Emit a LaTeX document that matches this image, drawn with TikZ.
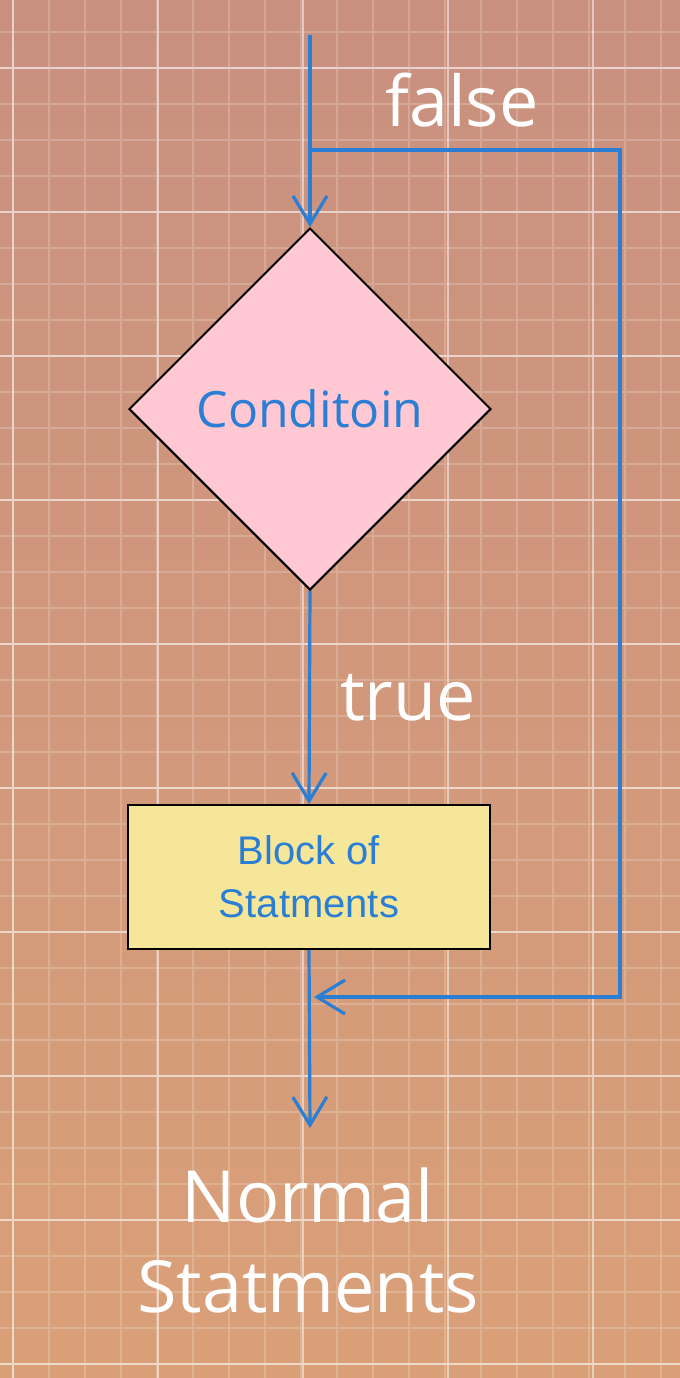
\documentclass[tikz,border=0pt]{standalone}
\usepackage{fontspec}
\setmainfont{Open Sans}
\newfontfamily\arialfont{Liberation Sans}
\usetikzlibrary{positioning,shapes.geometric,arrows.meta}

\definecolor{bgtop}{HTML}{C99080}
\definecolor{bgbottom}{HTML}{D9A078}
\definecolor{flowblue}{HTML}{2A7FD4}
\definecolor{condpink}{HTML}{FFC8D2}
\definecolor{blockyellow}{HTML}{F5E69A}

\tikzset{
  flow/.style={draw=flowblue,line width=1.6pt},
  flowarrow/.style={flow,-{Straight Barb[length=14pt,width=17pt,line width=1.6pt]}},
  bigword/.style={text=white,font=\fontsize{35}{40}\selectfont},
}

\begin{document}
\begin{tikzpicture}[x=0.5pt,y=-0.5pt]
\useasboundingbox (0,0) rectangle (680,1378);

% background and grid
\shade[top color=bgtop,bottom color=bgbottom] (0,0) rectangle (680,1378);
\draw[white,opacity=0.2,line width=0.8pt,xstep=18pt,ystep=18pt,shift={(13,32)}] (-13,-32) grid (667,1346);
\draw[white,opacity=0.5,line width=0.8pt,xstep=72.5pt,ystep=72pt,shift={(13,68)}] (-13,-68) grid (667,1310);

\node[diamond,draw=black,line width=1pt,fill=condpink,minimum width=181pt,minimum height=181pt,inner sep=0pt,
      text=flowblue,font=\fontsize{25}{30}\selectfont] (cond) at (310,409) {Conditoin};
\node[draw=black,line width=1pt,fill=blockyellow,minimum width=181pt,minimum height=72pt,inner sep=0pt,
      text=flowblue,align=center,font=\arialfont\fontsize{20}{26.5}\selectfont] (block) at (309,877) {Block of\\Statments};

\coordinate (start) at (310,35);
\coordinate (split) at (310,150);
\coordinate (corner1) at (620,150);
\coordinate (corner2) at (620,997);
\coordinate (merge) at (314,997);
\coordinate (stop) at (310,1128);

\draw[flow] (start) -- (split);
\draw[flowarrow] (split) -- (cond.north);
\draw[flowarrow] (cond.south) -- (block.north);
\draw[flowarrow] (split) -- (corner1) -- (corner2) -- (merge);
\draw[flowarrow] (block.south) -- (stop);

\node[bigword] (falselbl) at (462,100) {false};
\node[bigword] (truelbl) at (408,698) {true};
\node[bigword,align=center,font=\fontsize{36}{45}\selectfont] (normal) at (308,1240) {Normal\\Statments};
\end{tikzpicture}
\end{document}
